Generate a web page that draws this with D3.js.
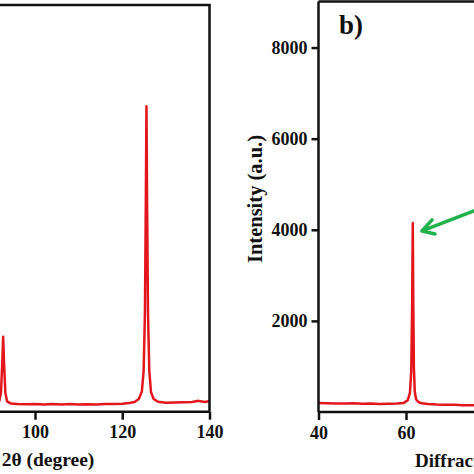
<!DOCTYPE html>
<html>
<head>
<meta charset="utf-8">
<script src="https://cdn.jsdelivr.net/npm/d3@7"></script>
<style>
  body { margin: 0; background: #fff; overflow: hidden; }
  svg { display: block; }
  text { font-family: "Liberation Serif", "DejaVu Serif", serif; font-weight: bold; fill: #111; }
</style>
</head>
<body>
<svg id="svg"></svg>
<script>
// colors
let red = "#e3161e"
let green = "#22b24c"
let ink = "#111"

// left panel data (a): 2theta vs intensity, only the right end is visible
let xA = [88, 90, 91, 91.8, 92.2, 92.5, 92.7, 92.9, 93.2, 93.6, 94.5, 96, 98, 100, 102, 104, 106, 108, 110, 112, 114, 116, 118, 120, 121.5, 122.8, 123.8, 124.5, 124.9, 125.2, 125.4, 125.55, 125.7, 125.9, 126.2, 126.6, 127.2, 128.2, 130, 132, 134, 136, 137.5, 138.3, 139, 140]
let yA = [175, 170, 180, 230, 420, 1100, 1660, 1100, 420, 230, 180, 170, 165, 172, 160, 168, 162, 170, 158, 165, 160, 168, 172, 178, 190, 215, 280, 450, 900, 2200, 4600, 6760, 4600, 2200, 900, 430, 280, 220, 200, 205, 210, 215, 240, 225, 215, 235]

// right panel data (b)
let xB = [40, 42, 44, 46, 48, 50, 52, 54, 56, 58, 59.5, 60.4, 60.9, 61.2, 61.4, 61.55, 61.65, 61.8, 62.0, 62.3, 62.8, 63.6, 65, 67, 69, 71, 73, 75, 77]
let yB = [195, 190, 188, 185, 190, 180, 184, 178, 182, 185, 200, 260, 420, 900, 2300, 4150, 2600, 1000, 450, 280, 220, 190, 175, 165, 160, 158, 150, 148, 150]

let ticksA = [100, 120, 140]
let ticksBx = [40, 60]
let ticksBy = [2000, 4000, 6000, 8000]

let width = 474, height = 474
let svg = d3.select("#svg").attr("width", width).attr("height", height)

// scales
let xScaleA = d3.scaleLinear().domain([100, 140]).range([35, 209.5])
let yScaleA = d3.scaleLinear().domain([0, 9000]).range([411.7, 5])
let xScaleB = d3.scaleLinear().domain([40, 60]).range([318.5, 406])
let yScaleB = d3.scaleLinear().domain([0, 9000]).range([412, 2])

// ---- panel a ----
let gA = svg.append("g")

gA.append("path")
  .datum(d3.zip(xA, yA))
  .attr("fill", "none")
  .attr("stroke", red)
  .attr("stroke-width", 2.5)
  .attr("stroke-linejoin", "round")
  .attr("d", d3.line().x(d => xScaleA(d[0])).y(d => yScaleA(d[1])))

// top + right frame
gA.append("path")
  .attr("fill", "none")
  .attr("stroke", ink)
  .attr("stroke-width", 2.5)
  .attr("d", "M-5," + yScaleA.range()[1] + "H" + xScaleA(140) + "V" + yScaleA(0))

let axisA = gA.append("g")
  .attr("transform", "translate(0," + yScaleA(0) + ")")
  .call(d3.axisBottom(xScaleA).tickValues(ticksA).tickSize(8).tickPadding(6).tickSizeOuter(0))
axisA.select(".domain").attr("d", "M-5,0H" + xScaleA(140)).attr("stroke", ink).attr("stroke-width", 2.5)
axisA.selectAll(".tick line").attr("stroke", ink).attr("stroke-width", 2.5)
axisA.selectAll(".tick text").attr("font-size", 18).attr("fill", ink)
axisA.attr("font-family", null)

gA.append("text")
  .attr("x", 48).attr("y", 466)
  .attr("text-anchor", "middle")
  .attr("font-size", 19.5)
  .text("2θ (degree)")

// ---- panel b ----
let gB = svg.append("g")

gB.append("path")
  .datum(d3.zip(xB, yB))
  .attr("fill", "none")
  .attr("stroke", red)
  .attr("stroke-width", 2.5)
  .attr("stroke-linejoin", "round")
  .attr("d", d3.line().x(d => xScaleB(d[0])).y(d => yScaleB(d[1])))

// top frame
gB.append("line")
  .attr("x1", xScaleB(40)).attr("x2", width + 5)
  .attr("y1", 1.5).attr("y2", 1.5)
  .attr("stroke", ink).attr("stroke-width", 2.5)

let axisBx = gB.append("g")
  .attr("transform", "translate(0," + yScaleB(0) + ")")
  .call(d3.axisBottom(xScaleB).tickValues(ticksBx).tickSize(8).tickPadding(6).tickSizeOuter(0))
axisBx.select(".domain").attr("d", "M" + xScaleB(40) + ",0H" + (width + 5)).attr("stroke", ink).attr("stroke-width", 2.5)

let axisBy = gB.append("g")
  .attr("transform", "translate(" + xScaleB(40) + ",0)")
  .call(d3.axisLeft(yScaleB).tickValues(ticksBy).tickSize(7).tickPadding(4).tickSizeOuter(0).tickFormat(d3.format("d")))
axisBy.select(".domain").attr("d", "M0,1.5V" + yScaleB(0)).attr("stroke", ink).attr("stroke-width", 2.5)

for (let ax of [axisBx, axisBy]) {
  ax.attr("font-family", null)
  ax.selectAll(".tick line").attr("stroke", ink).attr("stroke-width", 2.5)
  ax.selectAll(".tick text").attr("font-size", 18).attr("fill", ink)
}

gB.append("text")
  .attr("transform", "translate(262,199) rotate(-90)")
  .attr("text-anchor", "middle")
  .attr("font-size", 20.5)
  .text("Intensity (a.u.)")

gB.append("text")
  .attr("x", 415).attr("y", 467)
  .attr("font-size", 19)
  .text("Diffraction angle 2θ (degree)")

gB.append("text")
  .attr("x", 339).attr("y", 34)
  .attr("font-size", 27)
  .text("b)")

// green arrow pointing at the main peak
let tipX = xScaleB(61.6) + 9, tipY = yScaleB(4150) + 8
gB.append("path")
  .attr("fill", "none")
  .attr("stroke", green)
  .attr("stroke-width", 3.5)
  .attr("stroke-linecap", "round")
  .attr("stroke-linejoin", "round")
  .attr("d", "M" + (width + 10) + "," + (tipY - 24) + "L" + tipX + "," + tipY
    + "M" + (tipX + 10) + "," + (tipY - 11) + "L" + tipX + "," + tipY + "L" + (tipX + 13) + "," + (tipY + 3))
</script>
</body>
</html>
